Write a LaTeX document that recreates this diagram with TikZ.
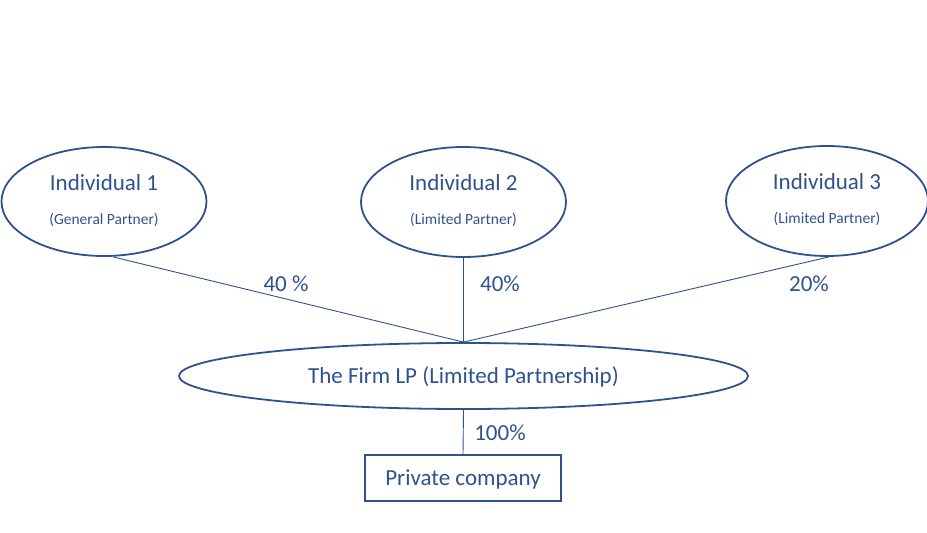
\documentclass[tikz,border=0pt]{standalone}
\usepackage{fontspec}
\setmainfont{Carlito}
\usetikzlibrary{shapes.geometric}
\definecolor{ink}{RGB}{47,82,143}
\tikzset{
  oval/.style={ellipse, draw=ink, line width=1.8pt, inner sep=0pt},
  boxed/.style={rectangle, draw=ink, line width=1.8pt, inner sep=0pt},
  big/.style={text=ink, font=\fontsize{23}{27}\selectfont, inner sep=0pt},
  small/.style={text=ink, font=\fontsize{15.5}{18}\selectfont, inner sep=0pt},
  link/.style={draw=ink, line width=0.9pt}
}
\begin{document}
\begin{tikzpicture}[x=1pt,y=-1pt]
\useasboundingbox (0,0) rectangle (927,533);
\node[oval, minimum width=205pt, minimum height=109pt] (i1) at (104,201.5) {};
\node[oval, minimum width=205pt, minimum height=110pt] (i2) at (463.5,202) {};
\node[oval, minimum width=202pt, minimum height=110pt] (i3) at (827,201) {};
\node[oval, minimum width=569pt, minimum height=66pt] (firm) at (463.5,376) {};
\node[boxed, minimum width=196pt, minimum height=46pt] (pc) at (463,478) {};

\node[big] (t1) at (104,183) {Individual 1};
\node[small] (s1) at (104,220) {(General Partner)};
\node[big] (t2) at (463.5,183) {Individual 2};
\node[small] (s2) at (463.5,220) {(Limited Partner)};
\node[big] (t3) at (827,182) {Individual 3};
\node[small] (s3) at (827,219) {(Limited Partner)};
\node[big] (tf) at (463.5,377) {The Firm LP (Limited Partnership)};
\node[big] (tp) at (463,479) {Private company};

\draw[link] ([xshift=9pt]i1.south) -- (firm.north);
\draw[link] (i2.south) -- (firm.north);
\draw[link] ([xshift=2pt]i3.south) -- (firm.north);
\draw[link] (firm.south) -- (pc.north);

\node[big] (l1) at (286,284) {40 \%};
\node[big] (l2) at (500,284) {40\%};
\node[big] (l3) at (809,284) {20\%};
\node[big] (l4) at (500,433) {100\%};
\end{tikzpicture}
\end{document}
